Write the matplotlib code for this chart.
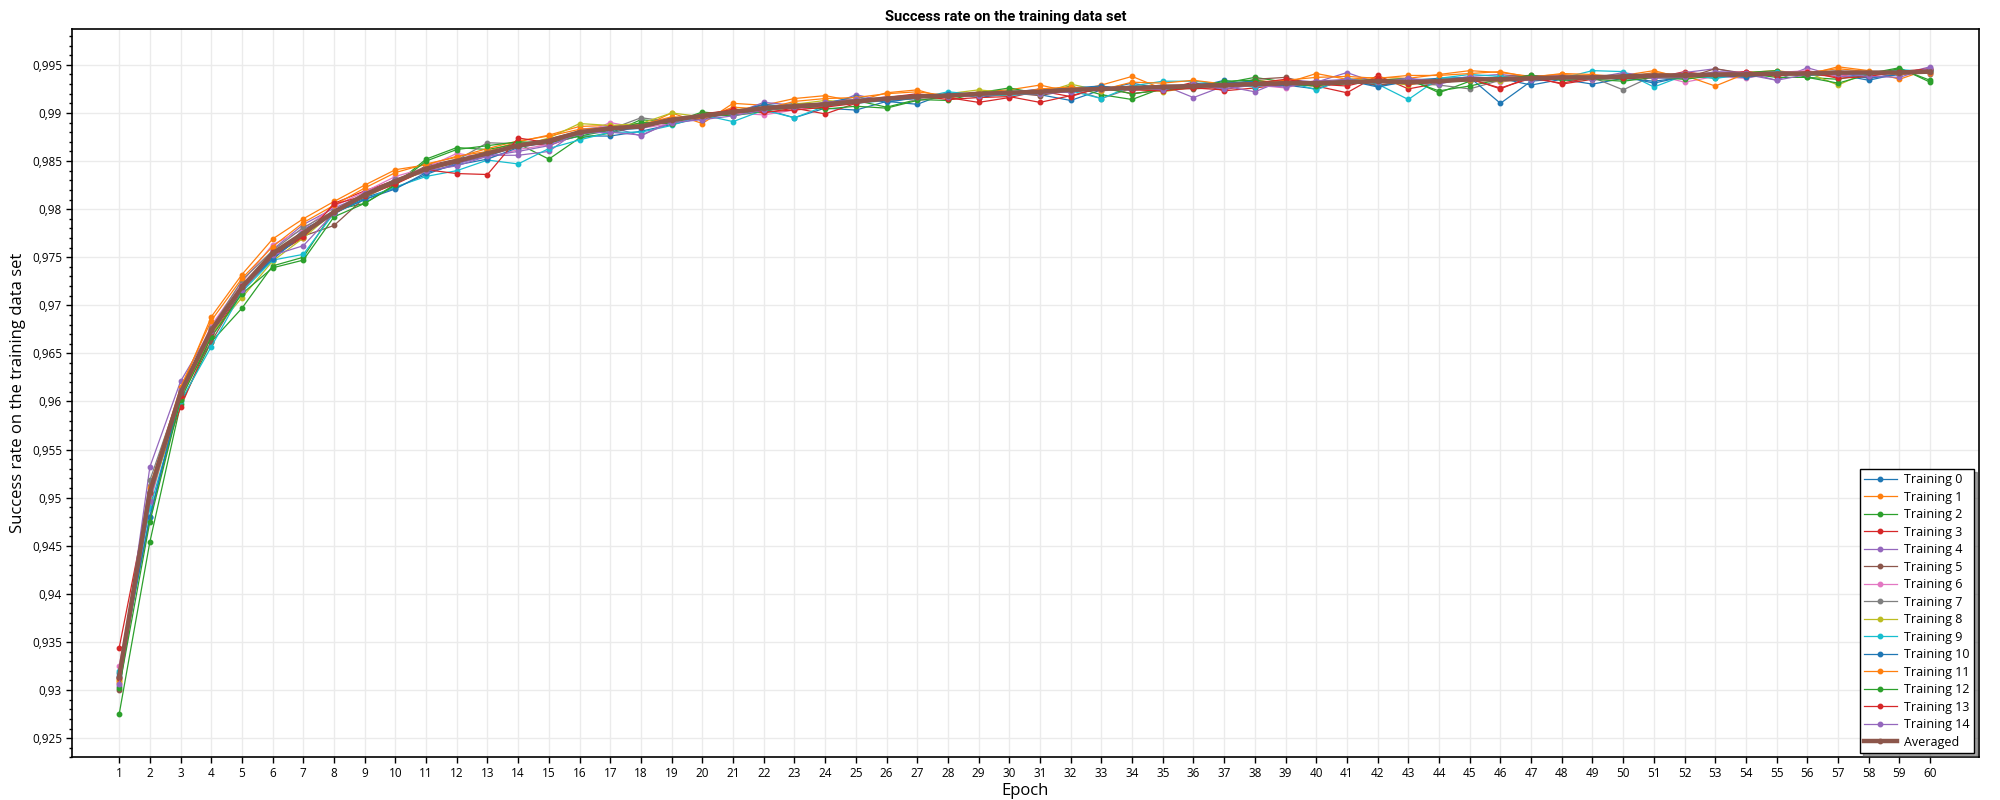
import matplotlib
matplotlib.use("Agg")
import matplotlib.pyplot as plt
from matplotlib.ticker import MultipleLocator, FuncFormatter, FixedLocator

plt.rcParams['font.family'] = ['Open Sans', 'DejaVu Sans']

epochs = list(range(1, 61))

training_0 = [0.9318, 0.9480, 0.9605, 0.9670, 0.9718, 0.9747, 0.9779, 0.9795, 0.9812, 0.9822,
              0.9836, 0.9848, 0.9855, 0.9866, 0.9868, 0.9876, 0.9876, 0.9881, 0.9888, 0.9895,
              0.9899, 0.9904, 0.9895, 0.9905, 0.9903, 0.9912, 0.9909, 0.9921, 0.9916, 0.9920,
              0.9919, 0.9913, 0.9924, 0.9931, 0.9925, 0.9926, 0.9934, 0.9928, 0.9929, 0.9925,
              0.9935, 0.9928, 0.9934, 0.9936, 0.9937, 0.9936, 0.9929, 0.9935, 0.9930, 0.9936,
              0.9933, 0.9937, 0.9940, 0.9938, 0.9941, 0.9939, 0.9940, 0.9934, 0.9941, 0.9945]
training_1 = [0.9309, 0.9512, 0.9612, 0.9688, 0.9732, 0.9769, 0.9790, 0.9808, 0.9825, 0.9841,
              0.9846, 0.9855, 0.9860, 0.9870, 0.9877, 0.9886, 0.9887, 0.9885, 0.9900, 0.9889,
              0.9910, 0.9908, 0.9915, 0.9918, 0.9912, 0.9921, 0.9924, 0.9915, 0.9922, 0.9924,
              0.9929, 0.9922, 0.9929, 0.9938, 0.9925, 0.9930, 0.9926, 0.9934, 0.9931, 0.9941,
              0.9935, 0.9937, 0.9936, 0.9940, 0.9944, 0.9942, 0.9938, 0.9940, 0.9938, 0.9939,
              0.9944, 0.9936, 0.9941, 0.9942, 0.9944, 0.9940, 0.9948, 0.9944, 0.9935, 0.9946]
training_2 = [0.9275, 0.9454, 0.9597, 0.9662, 0.9697, 0.9741, 0.9750, 0.9799, 0.9806, 0.9826,
              0.9852, 0.9864, 0.9862, 0.9868, 0.9852, 0.9874, 0.9879, 0.9893, 0.9890, 0.9901,
              0.9898, 0.9903, 0.9905, 0.9907, 0.9913, 0.9906, 0.9914, 0.9913, 0.9921, 0.9926,
              0.9920, 0.9928, 0.9919, 0.9914, 0.9926, 0.9929, 0.9931, 0.9937, 0.9932, 0.9929,
              0.9930, 0.9934, 0.9936, 0.9921, 0.9933, 0.9937, 0.9935, 0.9936, 0.9937, 0.9935,
              0.9938, 0.9940, 0.9936, 0.9942, 0.9944, 0.9937, 0.9935, 0.9941, 0.9947, 0.9932]
training_3 = [0.9344, 0.9505, 0.9594, 0.9668, 0.9715, 0.9752, 0.9770, 0.9806, 0.9819, 0.9830,
              0.9843, 0.9849, 0.9857, 0.9869, 0.9866, 0.9878, 0.9884, 0.9888, 0.9891, 0.9899,
              0.9903, 0.9900, 0.9905, 0.9899, 0.9910, 0.9916, 0.9920, 0.9916, 0.9911, 0.9916,
              0.9923, 0.9917, 0.9927, 0.9920, 0.9924, 0.9932, 0.9923, 0.9926, 0.9930, 0.9928,
              0.9921, 0.9939, 0.9925, 0.9931, 0.9936, 0.9925, 0.9938, 0.9930, 0.9935, 0.9939,
              0.9936, 0.9943, 0.9938, 0.9943, 0.9939, 0.9940, 0.9938, 0.9943, 0.9940, 0.9944]
training_4 = [0.9304, 0.9532, 0.9621, 0.9675, 0.9713, 0.9758, 0.9784, 0.9801, 0.9815, 0.9831,
              0.9838, 0.9847, 0.9856, 0.9856, 0.9860, 0.9883, 0.9886, 0.9876, 0.9892, 0.9895,
              0.9899, 0.9911, 0.9908, 0.9906, 0.9919, 0.9912, 0.9916, 0.9919, 0.9918, 0.9921,
              0.9925, 0.9921, 0.9928, 0.9923, 0.9929, 0.9916, 0.9928, 0.9922, 0.9935, 0.9932,
              0.9942, 0.9931, 0.9936, 0.9933, 0.9938, 0.9940, 0.9937, 0.9935, 0.9936, 0.9942,
              0.9937, 0.9942, 0.9946, 0.9940, 0.9934, 0.9947, 0.9938, 0.9937, 0.9940, 0.9948]
training_5 = [0.9300, 0.9500, 0.9608, 0.9662, 0.9716, 0.9750, 0.9772, 0.9783, 0.9812, 0.9828,
              0.9845, 0.9852, 0.9857, 0.9866, 0.9873, 0.9881, 0.9879, 0.9887, 0.9895, 0.9893,
              0.9902, 0.9908, 0.9904, 0.9911, 0.9914, 0.9916, 0.9919, 0.9918, 0.9920, 0.9921,
              0.9918, 0.9924, 0.9925, 0.9928, 0.9926, 0.9925, 0.9927, 0.9935, 0.9937, 0.9929,
              0.9933, 0.9929, 0.9932, 0.9935, 0.9933, 0.9938, 0.9939, 0.9937, 0.9935, 0.9936,
              0.9940, 0.9936, 0.9946, 0.9941, 0.9942, 0.9943, 0.9940, 0.9942, 0.9944, 0.9941]
training_6 = [0.9325, 0.9494, 0.9610, 0.9679, 0.9724, 0.9763, 0.9779, 0.9803, 0.9818, 0.9834,
              0.9843, 0.9858, 0.9853, 0.9862, 0.9867, 0.9877, 0.9890, 0.9884, 0.9889, 0.9896,
              0.9900, 0.9898, 0.9903, 0.9908, 0.9911, 0.9917, 0.9913, 0.9917, 0.9921, 0.9919,
              0.9922, 0.9926, 0.9923, 0.9925, 0.9928, 0.9927, 0.9930, 0.9929, 0.9926, 0.9934,
              0.9931, 0.9935, 0.9930, 0.9934, 0.9936, 0.9932, 0.9937, 0.9939, 0.9934, 0.9937,
              0.9940, 0.9932, 0.9938, 0.9936, 0.9942, 0.9944, 0.9939, 0.9941, 0.9943, 0.9942]
training_7 = [0.9312, 0.9518, 0.9611, 0.9676, 0.9726, 0.9757, 0.9781, 0.9798, 0.9816, 0.9831,
              0.9841, 0.9851, 0.9869, 0.9868, 0.9872, 0.9881, 0.9883, 0.9895, 0.9891, 0.9897,
              0.9902, 0.9906, 0.9910, 0.9909, 0.9913, 0.9915, 0.9918, 0.9919, 0.9921, 0.9920,
              0.9923, 0.9925, 0.9915, 0.9926, 0.9929, 0.9929, 0.9927, 0.9931, 0.9929, 0.9933,
              0.9930, 0.9934, 0.9931, 0.9929, 0.9925, 0.9934, 0.9936, 0.9938, 0.9937, 0.9924,
              0.9939, 0.9940, 0.9937, 0.9942, 0.9940, 0.9941, 0.9944, 0.9939, 0.9942, 0.9945]
training_8 = [0.9310, 0.9498, 0.9603, 0.9670, 0.9708, 0.9746, 0.9770, 0.9797, 0.9813, 0.9827,
              0.9840, 0.9849, 0.9860, 0.9865, 0.9874, 0.9889, 0.9887, 0.9889, 0.9900, 0.9896,
              0.9904, 0.9903, 0.9909, 0.9913, 0.9911, 0.9915, 0.9916, 0.9920, 0.9924, 0.9921,
              0.9920, 0.9930, 0.9923, 0.9927, 0.9922, 0.9927, 0.9929, 0.9928, 0.9932, 0.9930,
              0.9935, 0.9933, 0.9929, 0.9935, 0.9934, 0.9933, 0.9935, 0.9938, 0.9937, 0.9939,
              0.9936, 0.9941, 0.9940, 0.9939, 0.9940, 0.9942, 0.9929, 0.9943, 0.9941, 0.9944]
training_9 = [0.9320, 0.9489, 0.9600, 0.9657, 0.9714, 0.9747, 0.9753, 0.9796, 0.9810, 0.9823,
              0.9834, 0.9840, 0.9851, 0.9847, 0.9863, 0.9872, 0.9880, 0.9880, 0.9887, 0.9898,
              0.9891, 0.9903, 0.9895, 0.9907, 0.9910, 0.9913, 0.9915, 0.9922, 0.9919, 0.9918,
              0.9921, 0.9923, 0.9915, 0.9928, 0.9933, 0.9933, 0.9930, 0.9927, 0.9933, 0.9924,
              0.9936, 0.9930, 0.9914, 0.9936, 0.9940, 0.9938, 0.9934, 0.9936, 0.9944, 0.9943,
              0.9927, 0.9939, 0.9936, 0.9940, 0.9943, 0.9939, 0.9941, 0.9940, 0.9945, 0.9943]
training_10 = [0.9315, 0.9480, 0.9608, 0.9671, 0.9720, 0.9748, 0.9774, 0.9796, 0.9810, 0.9821,
               0.9838, 0.9846, 0.9852, 0.9864, 0.9870, 0.9878, 0.9882, 0.9884, 0.9893, 0.9897,
               0.9900, 0.9909, 0.9906, 0.9910, 0.9917, 0.9911, 0.9916, 0.9920, 0.9919, 0.9922,
               0.9924, 0.9926, 0.9928, 0.9924, 0.9927, 0.9930, 0.9931, 0.9933, 0.9928, 0.9931,
               0.9934, 0.9927, 0.9933, 0.9934, 0.9937, 0.9910, 0.9933, 0.9936, 0.9936, 0.9938,
               0.9931, 0.9938, 0.9939, 0.9937, 0.9941, 0.9940, 0.9942, 0.9936, 0.9940, 0.9945]
training_11 = [0.9307, 0.9510, 0.9615, 0.9684, 0.9728, 0.9761, 0.9786, 0.9804, 0.9822, 0.9838,
               0.9847, 0.9854, 0.9863, 0.9871, 0.9876, 0.9883, 0.9885, 0.9888, 0.9896, 0.9894,
               0.9906, 0.9904, 0.9912, 0.9915, 0.9916, 0.9920, 0.9922, 0.9918, 0.9920, 0.9919,
               0.9925, 0.9927, 0.9924, 0.9932, 0.9931, 0.9934, 0.9930, 0.9931, 0.9934, 0.9937,
               0.9938, 0.9936, 0.9939, 0.9939, 0.9941, 0.9943, 0.9937, 0.9941, 0.9940, 0.9937,
               0.9942, 0.9939, 0.9928, 0.9941, 0.9940, 0.9942, 0.9946, 0.9943, 0.9940, 0.9942]
training_12 = [0.9302, 0.9475, 0.9602, 0.9667, 0.9712, 0.9739, 0.9747, 0.9792, 0.9806, 0.9825,
               0.9850, 0.9862, 0.9866, 0.9870, 0.9869, 0.9876, 0.9882, 0.9890, 0.9889, 0.9899,
               0.9897, 0.9902, 0.9907, 0.9904, 0.9907, 0.9905, 0.9913, 0.9917, 0.9918, 0.9923,
               0.9921, 0.9923, 0.9926, 0.9920, 0.9924, 0.9926, 0.9933, 0.9934, 0.9930, 0.9928,
               0.9933, 0.9935, 0.9934, 0.9923, 0.9928, 0.9935, 0.9939, 0.9934, 0.9935, 0.9933,
               0.9937, 0.9935, 0.9939, 0.9941, 0.9937, 0.9937, 0.9931, 0.9940, 0.9946, 0.9934]
training_13 = [0.9313, 0.9505, 0.9606, 0.9672, 0.9720, 0.9755, 0.9771, 0.9805, 0.9814, 0.9826,
               0.9841, 0.9837, 0.9836, 0.9874, 0.9869, 0.9879, 0.9885, 0.9885, 0.9892, 0.9897,
               0.9904, 0.9901, 0.9903, 0.9906, 0.9910, 0.9914, 0.9918, 0.9914, 0.9916, 0.9917,
               0.9911, 0.9918, 0.9926, 0.9924, 0.9923, 0.9926, 0.9924, 0.9931, 0.9935, 0.9930,
               0.9928, 0.9936, 0.9930, 0.9932, 0.9935, 0.9926, 0.9936, 0.9931, 0.9937, 0.9936,
               0.9937, 0.9941, 0.9941, 0.9943, 0.9938, 0.9943, 0.9936, 0.9938, 0.9943, 0.9946]
training_14 = [0.9306, 0.9497, 0.9612, 0.9673, 0.9716, 0.9752, 0.9762, 0.9796, 0.9817, 0.9830,
               0.9840, 0.9845, 0.9855, 0.9860, 0.9866, 0.9879, 0.9880, 0.9877, 0.9890, 0.9893,
               0.9897, 0.9903, 0.9906, 0.9911, 0.9914, 0.9915, 0.9917, 0.9917, 0.9918, 0.9920,
               0.9920, 0.9922, 0.9925, 0.9926, 0.9924, 0.9930, 0.9925, 0.9929, 0.9927, 0.9933,
               0.9935, 0.9932, 0.9936, 0.9930, 0.9937, 0.9935, 0.9934, 0.9937, 0.9935, 0.9940,
               0.9936, 0.9937, 0.9943, 0.9942, 0.9934, 0.9940, 0.9941, 0.9938, 0.9937, 0.9947]
averaged = [0.9314, 0.9506, 0.9609, 0.9674, 0.9719, 0.9754, 0.9775, 0.9797, 0.9815, 0.9829,
            0.9842, 0.9850, 0.9858, 0.9866, 0.9871, 0.9880, 0.9884, 0.9886, 0.9893, 0.9897,
            0.9901, 0.9905, 0.9907, 0.9909, 0.9912, 0.9915, 0.9917, 0.9918, 0.9920, 0.9921,
            0.9922, 0.9924, 0.9925, 0.9926, 0.9927, 0.9928, 0.9929, 0.9930, 0.9931, 0.9931,
            0.9932, 0.9933, 0.9932, 0.9933, 0.9935, 0.9935, 0.9936, 0.9937, 0.9937, 0.9938,
            0.9939, 0.9939, 0.9940, 0.9940, 0.9941, 0.9941, 0.9942, 0.9942, 0.9942, 0.9943]

series_names = [f"Training {i}" for i in range(15)]
series_values = [training_0, training_1, training_2, training_3, training_4, training_5,
                 training_6, training_7, training_8, training_9, training_10, training_11,
                 training_12, training_13, training_14]
colors = ['#1f77b4', '#ff7f0e', '#2ca02c', '#d62728', '#9467bd', '#8c564b', '#e377c2',
          '#7f7f7f', '#bcbd22', '#17becf']

fig = plt.figure(figsize=(20, 8), dpi=100)
ax = fig.add_axes([0.0358, 0.0533, 0.9535, 0.9101])

for i, (name, vals) in enumerate(zip(series_names, series_values)):
    ax.plot(epochs, vals, color=colors[i % 10], lw=0.9, marker='o', ms=3.2,
            label=name, zorder=2)
ax.plot(epochs, averaged, color='#8c564b', lw=3.2, marker='o', ms=3.2,
        label='Averaged', zorder=3)

ax.set_xlim(-0.55, 61.58)
ax.set_ylim(0.9230, 0.9987)
ax.xaxis.set_major_locator(FixedLocator(epochs))
ax.yaxis.set_major_locator(MultipleLocator(0.005))
ax.yaxis.set_minor_locator(MultipleLocator(0.001))

def fmt(v, pos):
    s = f"{v:.3f}".rstrip('0').rstrip('.')
    return s.replace('.', ',')
ax.yaxis.set_major_formatter(FuncFormatter(fmt))

ax.grid(True, which='major', color='#ebebeb', lw=1.0, zorder=0)
ax.set_axisbelow(True)
ax.tick_params(axis='both', which='major', labelsize=8.5, length=4, width=1, color='black', pad=3)
ax.tick_params(axis='y', which='minor', length=2.5, width=1, color='black')
for sp in ax.spines.values():
    sp.set_linewidth(1.2)
    sp.set_color('black')

ax.set_title("Success rate on the training data set", fontsize=10.5, fontweight='bold', pad=6,
             x=0.49, family=['Roboto', 'DejaVu Sans'])
ax.set_xlabel("Epoch", fontsize=12, labelpad=2)
ax.set_ylabel("Success rate on the training data set", fontsize=12, labelpad=4)

leg = ax.legend(loc='lower right', fontsize=9, frameon=True, fancybox=False, shadow=True,
                borderaxespad=0.35, handlelength=2.6, labelspacing=0.36, borderpad=0.35,
                handletextpad=0.6)
leg.get_frame().set_edgecolor('black')
leg.get_frame().set_linewidth(1.0)

fig.savefig("out.png", dpi=100)
